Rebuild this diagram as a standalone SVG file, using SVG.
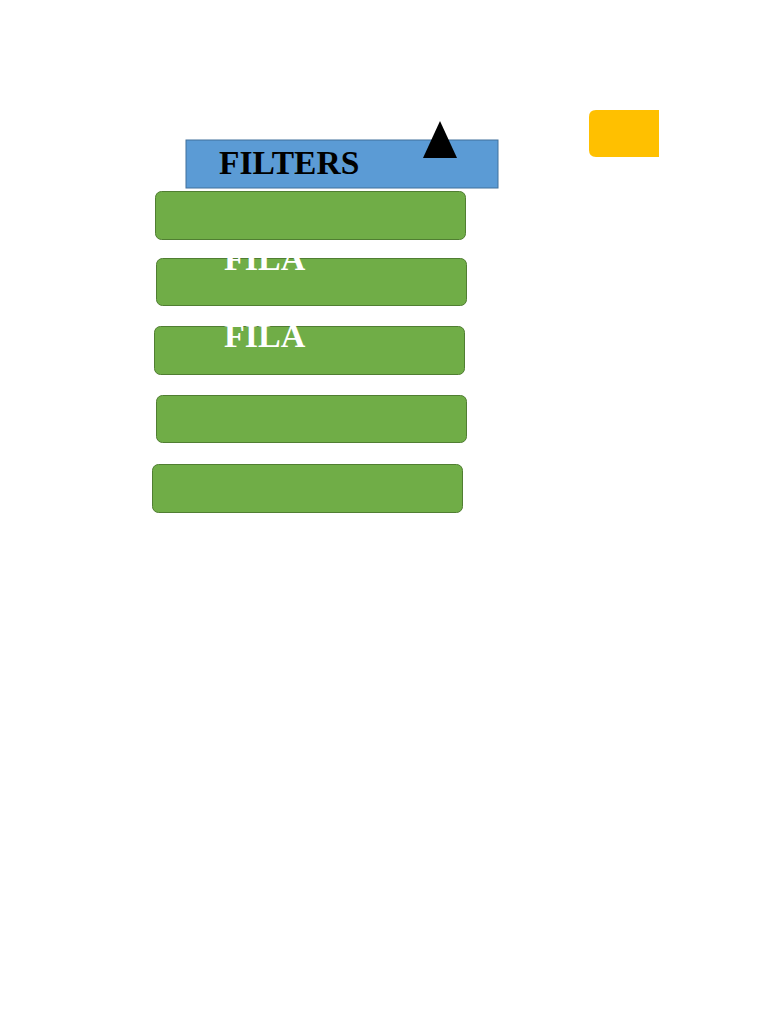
<svg xmlns="http://www.w3.org/2000/svg" width="768" height="1024" viewBox="0 0 768 1024">
<style>
.g{fill:#70AD47;stroke:#507E32;stroke-width:1}
.t{font-family:"Liberation Serif",serif;font-weight:bold}
</style>
<rect width="768" height="1024" fill="#fff"/>
<g id="yellow"><path d="M596,110 H659 V157 H596 Q589,157 589,150 V117 Q589,110 596,110 Z" fill="#FFC000"/></g>
<g id="filters">
<rect x="186" y="140" width="312" height="48" fill="#5B9BD5" stroke="#41719C" stroke-width="1"/>
<text class="t" x="219" y="174" font-size="33.5" fill="#000">FILTERS</text>
</g>
<g id="triangle"><polygon points="440,121 457,158 423,158" fill="#000"/></g>
<g id="box1"><rect class="g" x="155.5" y="191.5" width="310" height="48" rx="6"/></g>
<g id="box2"><rect class="g" x="156.5" y="258.5" width="310" height="47" rx="6"/>
<text class="t" x="224" y="270" font-size="34" fill="#fff">FILA</text></g>
<g id="box3"><rect class="g" x="154.5" y="326.5" width="310" height="48" rx="6"/>
<text class="t" x="224" y="347" font-size="34" fill="#fff">FILA</text></g>
<g id="box4"><rect class="g" x="156.5" y="395.5" width="310" height="47" rx="6"/></g>
<g id="box5"><rect class="g" x="152.5" y="464.5" width="310" height="48" rx="6"/></g>
<g id="connectors"></g>
</svg>
